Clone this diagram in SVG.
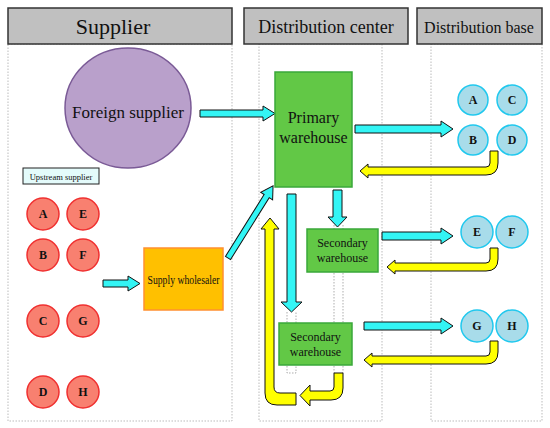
<svg xmlns="http://www.w3.org/2000/svg" width="550" height="428" viewBox="0 0 550 428">
<style>
.hdr{fill:#c0c0c0;stroke:#333;stroke-width:1.5}
.panel{fill:none;stroke:#aaa;stroke-width:0.8;stroke-dasharray:1.5,1.5}
.guide{fill:none;stroke:#777;stroke-width:0.6;stroke-dasharray:1.5,1.5}
.t{font-family:"Liberation Serif",serif;fill:#111;text-anchor:middle}
.lb{font-family:"Liberation Serif",serif;font-weight:bold;font-size:12px;fill:#111;text-anchor:middle}
.red{fill:#f88070;stroke:#f03030;stroke-width:1.5}
.blue{fill:#a8dcea;stroke:#20c8ee;stroke-width:1.5}
.wh{fill:#62c846;stroke:#3aa83a;stroke-width:1.5}
.cy{fill:#33f5f5;stroke:#111;stroke-width:1}
.ye{fill:#ffff00;stroke:#111;stroke-width:1}
</style>
<rect width="550" height="428" fill="#fff"/>
<g id="panels">
<rect class="panel" x="8" y="44" width="224" height="377"/>
<rect class="panel" x="259" y="44" width="123" height="377"/>
<rect class="panel" x="431" y="44" width="111" height="377"/>
</g>
<g id="headers">
<rect class="hdr" x="8" y="8" width="224" height="36"/>
<text class="t" x="113" y="34" font-size="22">Supplier</text>
<rect class="hdr" x="244" y="8" width="164" height="36"/>
<text class="t" x="326" y="33" font-size="18">Distribution center</text>
<rect class="hdr" x="417" y="8" width="125" height="36"/>
<text class="t" x="479" y="33" font-size="16">Distribution base</text>
</g>
<g id="guides">
<line class="guide" x1="334" y1="225" x2="334" y2="373"/>
<line class="guide" x1="343" y1="225" x2="343" y2="373"/>
<path class="guide" d="M287,312 L287,373 L296,373 L296,312"/>
</g>
<g id="connectors">
<polygon class="cy" points="200,110 263,110 263,106 275,113.5 263,121 263,117 200,117"/>
<polygon class="cy" points="103,280 128,280 128,276 140,283.5 128,291 128,287 103,287"/>
<polygon class="cy" points="355,125 441,125 441,121 453,129 441,137 441,133 355,133"/>
<polygon class="cy" points="382,232 441,232 441,228 453,236 441,244 441,240 382,240"/>
<polygon class="cy" points="364,322 441,322 441,318 453,326 441,334 441,330 364,330"/>
<polygon class="cy" points="333,190 342,190 342,217 347,217 337.5,227 328,217 333,217"/>
<polygon class="cy" points="287,194 296,194 296,302 302,302 291.5,312 281,302 287,302"/>
<g transform="translate(228,258) rotate(-58)">
<polygon class="cy" points="0,-3 73,-3 73,-7 85,0 73,7 73,3 0,3"/>
</g>
<path class="ye" d="M498,151 L498,163 Q498,175 486,175 L368,175 L368,178 L360,171 L368,164 L368,167 L486,167 Q490,167 490,163 L490,151 Z"/>
<path class="ye" d="M498,248 L498,259 Q498,271 486,271 L395,271 L395,274 L387,267 L395,260 L395,263 L486,263 Q490,263 490,259 L490,248 Z"/>
<path class="ye" d="M498,341 L498,352 Q498,364 486,364 L372,364 L372,367 L364,360 L372,353 L372,356 L486,356 Q490,356 490,352 L490,341 Z"/>
<path class="ye" d="M343,373 L343,388 Q343,400 331,400 L310,400 L310,406 L300,395.5 L310,385 L310,391 L330,391 Q334,391 334,387 L334,373 Z"/>
<path class="ye" d="M296,393 L280,393 Q274,393 274,387 L274,229 L279,229 L270,218 L261,229 L265,229 L265,393 Q265,405 277,405 L296,405 Z"/>
</g>
<g id="foreign-supplier">
<ellipse cx="128" cy="108" rx="63" ry="60" fill="#b9a0cb" stroke="#7a5a96" stroke-width="1.5"/>
<text class="t" x="128" y="118" font-size="17">Foreign supplier</text>
</g>
<g id="upstream-label">
<rect x="23" y="168" width="76" height="16" fill="#e4fbfb" stroke="#222" stroke-width="1"/>
<text class="t" x="61" y="180" font-size="8.5">Upstream supplier</text>
</g>
<g id="upstream-A"><circle class="red" cx="43" cy="214" r="16"/><text class="lb" x="43" y="218">A</text></g>
<g id="upstream-E"><circle class="red" cx="83" cy="214" r="16"/><text class="lb" x="83" y="218">E</text></g>
<g id="upstream-B"><circle class="red" cx="43" cy="255" r="16"/><text class="lb" x="43" y="259">B</text></g>
<g id="upstream-F"><circle class="red" cx="83" cy="255" r="16"/><text class="lb" x="83" y="259">F</text></g>
<g id="upstream-C"><circle class="red" cx="43" cy="321" r="16"/><text class="lb" x="43" y="325">C</text></g>
<g id="upstream-G"><circle class="red" cx="83" cy="321" r="16"/><text class="lb" x="83" y="325">G</text></g>
<g id="upstream-D"><circle class="red" cx="43" cy="392" r="16"/><text class="lb" x="43" y="396">D</text></g>
<g id="upstream-H"><circle class="red" cx="83" cy="392" r="16"/><text class="lb" x="83" y="396">H</text></g>
<g id="supply-wholesaler">
<rect x="144" y="248" width="79" height="62" fill="#ffc000" stroke="#ff9030" stroke-width="1.5"/>
<text class="t" x="183.5" y="284" font-size="12" textLength="72" lengthAdjust="spacingAndGlyphs">Supply wholesaler</text>
</g>
<g id="primary-warehouse">
<rect class="wh" x="275" y="72" width="77" height="115"/>
<text class="t" x="313.5" y="123" font-size="16">Primary</text>
<text class="t" x="313.5" y="143" font-size="16">warehouse</text>
</g>
<g id="secondary-warehouse-1">
<rect class="wh" x="307" y="229" width="71" height="43"/>
<text class="t" x="342.5" y="247" font-size="12">Secondary</text>
<text class="t" x="342.5" y="262" font-size="12">warehouse</text>
</g>
<g id="secondary-warehouse-2">
<rect class="wh" x="279" y="323" width="73" height="42"/>
<text class="t" x="315.5" y="341" font-size="12">Secondary</text>
<text class="t" x="315.5" y="356" font-size="12">warehouse</text>
</g>
<g id="base-A"><circle class="blue" cx="473" cy="100" r="15"/><text class="lb" x="473" y="104">A</text></g>
<g id="base-C"><circle class="blue" cx="512" cy="100" r="15"/><text class="lb" x="512" y="104">C</text></g>
<g id="base-B"><circle class="blue" cx="473" cy="140" r="15"/><text class="lb" x="473" y="144">B</text></g>
<g id="base-D"><circle class="blue" cx="512" cy="140" r="15"/><text class="lb" x="512" y="144">D</text></g>
<g id="base-E"><circle class="blue" cx="477" cy="232" r="16"/><text class="lb" x="477" y="236">E</text></g>
<g id="base-F"><circle class="blue" cx="512" cy="232" r="16"/><text class="lb" x="512" y="236">F</text></g>
<g id="base-G"><circle class="blue" cx="477" cy="326" r="16"/><text class="lb" x="477" y="330">G</text></g>
<g id="base-H"><circle class="blue" cx="512" cy="326" r="16"/><text class="lb" x="512" y="330">H</text></g>
</svg>
